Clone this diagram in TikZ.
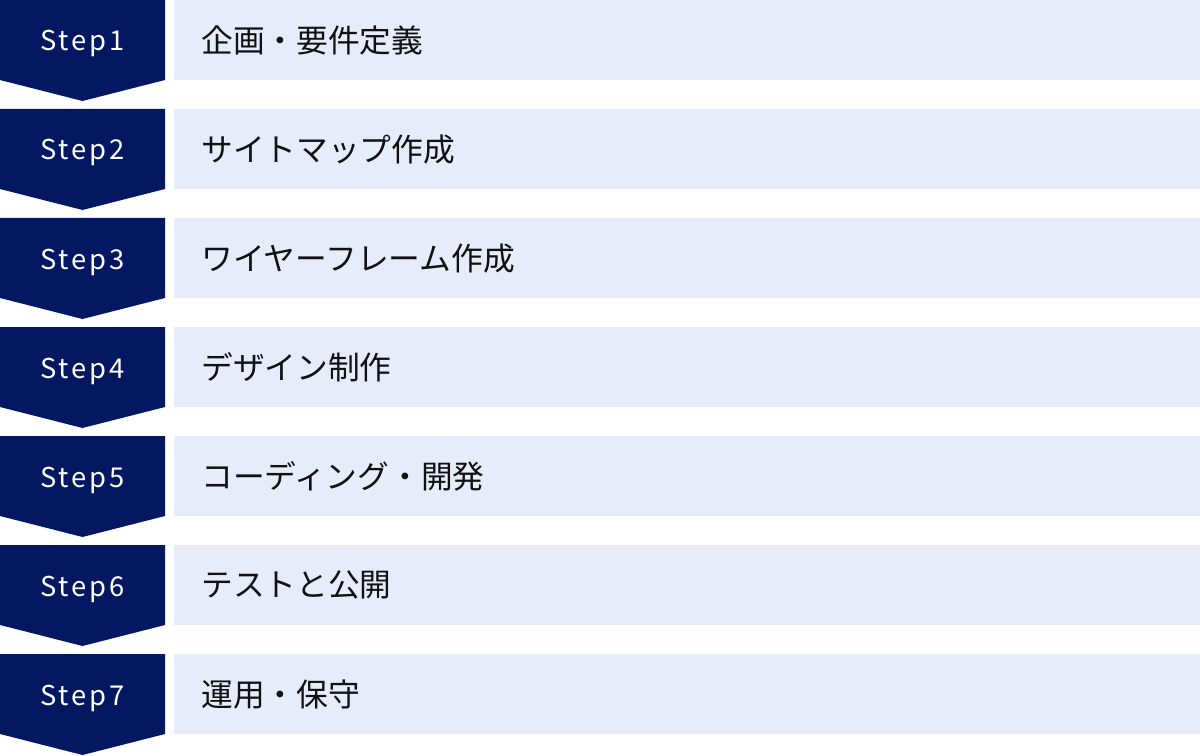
\documentclass[tikz,border=0pt]{standalone}
\usepackage{fontspec}
\setmainfont{Noto Sans CJK JP}
\definecolor{stepnavy}{HTML}{041862}
\definecolor{boxblue}{HTML}{E6ECF9}
\definecolor{tasktextcol}{HTML}{111111}
\tikzset{
  chevron/.style={fill=stepnavy},
  steplabel/.style={text=white,inner sep=0pt,anchor=base,
    font=\fontsize{20.5}{21}\selectfont\addfontfeatures{LetterSpace=10}},
  taskbox/.style={fill=boxblue,inner sep=0pt,minimum width=769.5pt,
    minimum height=60pt},
  tasktext/.style={text=tasktextcol,inner sep=0pt,
    font=\fontsize{23.8}{24}\selectfont}
}
\begin{document}
\begin{tikzpicture}[x=0.75pt,y=-0.75pt]
  \useasboundingbox (0,0) rectangle (1200,756);
  \foreach \i/\task in {1/企画・要件定義,2/サイトマップ作成,3/ワイヤーフレーム作成,
    4/デザイン制作,5/コーディング・開発,6/テストと公開,7/運用・保守}{
    \pgfmathsetmacro\rowtop{109*(\i-1)}
    % chevron on the left
    \fill[chevron] (0,\rowtop) -- ++(165,0) -- ++(0,80) -- ++(-82.5,21)
      -- ++(-82.5,-21) -- cycle;
    \node[steplabel] (step\i) at (82.5,\rowtop+51) {Step\i};
    \node[taskbox,anchor=north west] (box\i) at (174,\rowtop) {};
    \node[tasktext,anchor=west] (task\i) at ([xshift=20.25pt]box\i.west) {\task};
  }
\end{tikzpicture}
\end{document}
